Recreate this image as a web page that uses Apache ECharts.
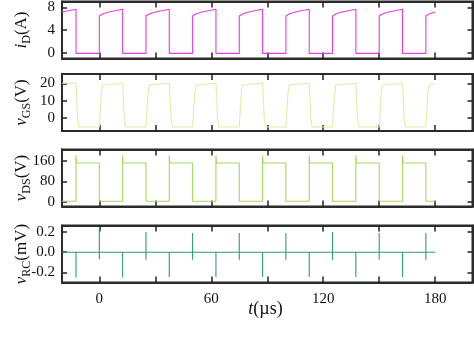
<!DOCTYPE html>
<html>
<head>
<meta charset="utf-8">
<script src="https://cdn.jsdelivr.net/npm/echarts@6/dist/echarts.min.js"></script>
<style>
  html, body { margin: 0; padding: 0; background: #fff; }
  #chart { width: 474px; height: 346px; }
</style>
</head>
<body>
<div id="chart"></div>
<script>
// Time window of the record (µs)
const tStart = -20;
const tEnd = 180;

// Switching instants (µs): gate turn-on and turn-off
const onEdges = [0, 25, 50, 75, 100, 125, 150, 175];
const offEdges = [-12.5, 12.5, 37.5, 62.5, 87.5, 112.5, 137.5, 162.5];

// Bottom-axis ticks and labels
const tTicks = [0, 30, 60, 90, 120, 150, 180];
const tLabels = [0, 60, 120, 180];

// Drain current iD (A): [offset from edge (µs), value]
const iDStart = 7.2;
const iDOnShape = [[0, -0.1], [0, 6.5], [2, 6.9], [5, 7.2], [12.5, 7.7]];
const iDOffShape = [[0, 7.7], [0, -0.1]];

// Gate-source voltage vGS (V)
const vGSStart = 20;
const vGSOnShape = [[0, -5], [0.5, 4], [1.1, 14], [1.8, 19], [2.6, 20]];
const vGSOffShape = [[0, 20], [0.4, 11], [0.9, 0], [1.6, -5]];

// Drain-source voltage vDS (V)
const vDSStart = 3;
const vDSOnShape = [[0, 151], [0, 3]];
const vDSOffShape = [[0, 3], [0, 181], [0.3, 151]];

// Rogowski-coil voltage vRC (mV): spike extremes at each edge
const vRCOnPeak = [0.24, 0.2, 0.19, 0.19, 0.19, 0.2, 0.19, 0.19];
const vRCOnDip = [-0.07, -0.075, -0.075, -0.075, -0.075, -0.075, -0.075, -0.075];
const vRCOffDip = [-0.25, -0.25, -0.245, -0.245, -0.245, -0.245, -0.245, -0.245];

// Assemble a waveform from its edge shapes, clipped to the record window
function trace(startLevel, events) {
  events.sort((a, b) => a[0] - b[0]);
  const pts = [[tStart, startLevel]];
  events.forEach(([t, shape]) => {
    shape.forEach(([dt, v]) => {
      const x = t + dt;
      if (x >= tStart && x <= tEnd) pts.push([x, v]);
    });
  });
  const last = pts[pts.length - 1];
  if (last[0] < tEnd) pts.push([tEnd, last[1]]);
  return pts;
}

function edgeEvents(onShape, offShape) {
  return onEdges.map(t => [t, onShape]).concat(offEdges.map(t => [t, offShape]));
}

const iD = trace(iDStart, edgeEvents(iDOnShape, iDOffShape));
const vGS = trace(vGSStart, edgeEvents(vGSOnShape, vGSOffShape));
const vDS = trace(vDSStart, edgeEvents(vDSOnShape, vDSOffShape));
const vRC = trace(0, onEdges.map((t, k) => [t, [[0, 0], [0, vRCOnPeak[k]], [0, vRCOnDip[k]], [0, 0]]])
  .concat(offEdges.map((t, k) => [t, [[0, 0], [0, vRCOffDip[k]], [0, 0]]])));

// Panel layout
const left = 62, width = 410.5, height = 57;
const tops = [1.5, 74, 149.5, 225.5];
const frame = '#2b2b2b';
const serif = 'Liberation Serif';

const panels = [
  { data: iD,  color: '#e63ce6', min: -1,    max: 9.05,  ticks: [0, 4, 8],        fmt: v => String(v) },
  { data: vGS, color: '#ece6a6', min: -7.3,  max: 25.3,  ticks: [0, 10, 20],      fmt: v => String(v) },
  { data: vDS, color: '#a6d85e', min: -17,   max: 203,   ticks: [0, 80, 160],     fmt: v => String(v) },
  { data: vRC, color: '#2f9c78', min: -0.3,  max: 0.265, ticks: [-0.2, 0, 0.2],   fmt: v => v.toFixed(1) }
];

const grid = [], xAxis = [], yAxis = [], series = [];
panels.forEach((p, i) => {
  grid.push({ left: left, top: tops[i], width: width, height: height, show: true,
    borderColor: frame, borderWidth: 2, backgroundColor: 'transparent' });
  const isBottom = i === panels.length - 1;
  ['bottom', 'top'].forEach((pos, j) => {
    xAxis.push({
      type: 'value', gridIndex: i, position: pos, min: tStart, max: 200,
      axisLine: { show: true, onZero: false, lineStyle: { color: frame, width: 2 } },
      splitLine: { show: false },
      axisTick: { show: true, inside: true, length: 6, customValues: tTicks,
        lineStyle: { color: '#222', width: 1.5 } },
      axisLabel: { show: isBottom && j === 0, customValues: tLabels, margin: 9,
        color: '#111', fontFamily: serif, fontSize: 15 }
    });
  });
  ['left', 'right'].forEach((pos, j) => {
    yAxis.push({
      type: 'value', gridIndex: i, position: pos, min: p.min, max: p.max,
      axisLine: { show: true, onZero: false, lineStyle: { color: frame, width: 2 } },
      splitLine: { show: false },
      axisTick: { show: true, inside: true, length: 5, customValues: p.ticks,
        lineStyle: { color: '#222', width: 1.5 } },
      axisLabel: { show: j === 0, customValues: p.ticks, margin: 7, formatter: p.fmt,
        color: '#111', fontFamily: serif, fontSize: 15 }
    });
  });
  series.push({
    type: 'line', xAxisIndex: 2 * i, yAxisIndex: 2 * i, data: p.data,
    showSymbol: false, symbol: 'none', sampling: null, animation: false,
    lineStyle: { color: p.color, width: 1.1 }
  });
});

// Rotated y-axis titles with subscripts
const nameRich = {
  it: { fontFamily: serif, fontStyle: 'italic', fontSize: 17, fill: '#111' },
  n:  { fontFamily: serif, fontSize: 17, fill: '#111' },
  s:  { fontFamily: serif, fontSize: 12, fill: '#111', padding: [9, 0, 0, 0] }
};
const names = ['{it|i}{s|D}{n|(A)}', '{it|v}{s|GS}{n|(V)}', '{it|v}{s|DS}{n|(V)}', '{it|v}{s|RC}{n|(mV)}'];
const graphic = names.map((txt, i) => ({
  type: 'text', x: 22, y: tops[i] + height / 2, rotation: Math.PI / 2,
  style: { text: txt, rich: nameRich, align: 'center', verticalAlign: 'middle' }
}));
graphic.push({
  type: 'text', x: 265.5, y: 309,
  style: { text: '{it|t}{n|(µs)}', rich: {
    it: { fontFamily: serif, fontStyle: 'italic', fontSize: 18, fill: '#111' },
    n:  { fontFamily: serif, fontSize: 18, fill: '#111' } }, align: 'center', verticalAlign: 'middle' }
});

const chart = echarts.init(document.getElementById('chart'), null, { renderer: 'canvas' });
chart.setOption({
  animation: false,
  backgroundColor: '#fff',
  grid, xAxis, yAxis, series, graphic
});
</script>
</body>
</html>
